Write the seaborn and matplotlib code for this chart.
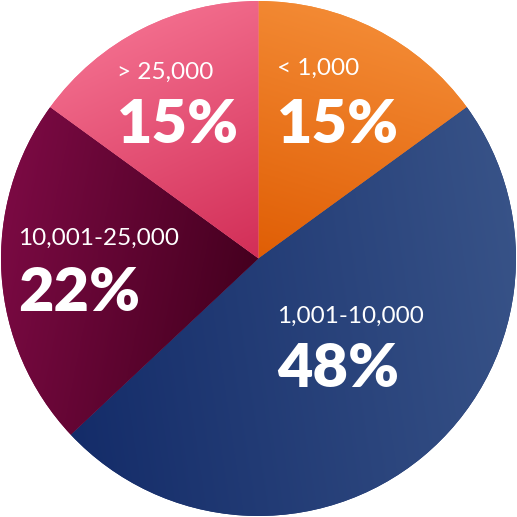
import matplotlib
matplotlib.use("Agg")

import numpy as np
import seaborn as sns
import matplotlib.pyplot as plt

# Share of organisations by size band
bands = ["< 1,000", "1,001-10,000", "10,001-25,000", "> 25,000"]
shares = [15, 48, 22, 15]
pct_labels = ["15%", "48%", "22%", "15%"]

# gradient colours per slice (start -> end) and direction of the gradient
light = ["#F38A34", "#142C69", "#7C0A44", "#F26C8C"]
dark = ["#E05E05", "#385388", "#45001F", "#D22E57"]
grad_dir = [(-0.3, -1.0), (1.0, 0.15), (1.0, -0.2), (0.45, -1.0)]

# where the text for each slice starts (data coords, left edge / baselines)
text_x = [0.070, 0.072, -0.935, -0.550]
label_y = [0.713, -0.248, 0.054, 0.698]
pct_y = [0.450, -0.500, -0.202, 0.450]

sns.set_theme(style="white")
plt.rcParams["font.family"] = ["Lato", "DejaVu Sans"]

fig = plt.figure(figsize=(5.17, 5.17), dpi=100)
ax = fig.add_axes([0, 0, 1, 1])

wedges, _ = ax.pie(
    shares,
    startangle=90,
    counterclock=False,
    radius=1.0,
    colors=light,
    wedgeprops=dict(linewidth=0),
)

# fill each wedge with a linear gradient clipped to its shape
xs = np.linspace(-1, 1, 600)
gx, gy = np.meshgrid(xs, xs[::-1])
for w, c0, c1, (dx, dy) in zip(wedges, light, dark, grad_dir):
    n = np.hypot(dx, dy)
    dx, dy = dx / n, dy / n
    proj = gx * dx + gy * dy
    verts = w.get_path().vertices
    verts = w.get_patch_transform().transform(verts)
    p = verts[:, 0] * dx + verts[:, 1] * dy
    cmap = sns.blend_palette([c0, c1], as_cmap=True)
    im = ax.imshow(proj, cmap=cmap, vmin=p.min(), vmax=p.max(),
                   extent=[-1, 1, -1, 1], origin="upper", zorder=2,
                   interpolation="bilinear")
    im.set_clip_path(w)

for x, ly, py, lab, pct in zip(text_x, label_y, pct_y, bands, pct_labels):
    ax.text(x, ly, lab, color="white", fontsize=17.5, ha="left",
            va="baseline", zorder=5)
    ax.text(x, py, pct, color="white", fontsize=44, fontweight="heavy",
            ha="left", va="baseline", zorder=5)

ax.set_xlim(-1.004, 1.004)
ax.set_ylim(-1.004, 1.004)
ax.set_aspect("equal")
ax.axis("off")

fig.savefig("out.png", dpi=100, facecolor="white")
plt.close(fig)
